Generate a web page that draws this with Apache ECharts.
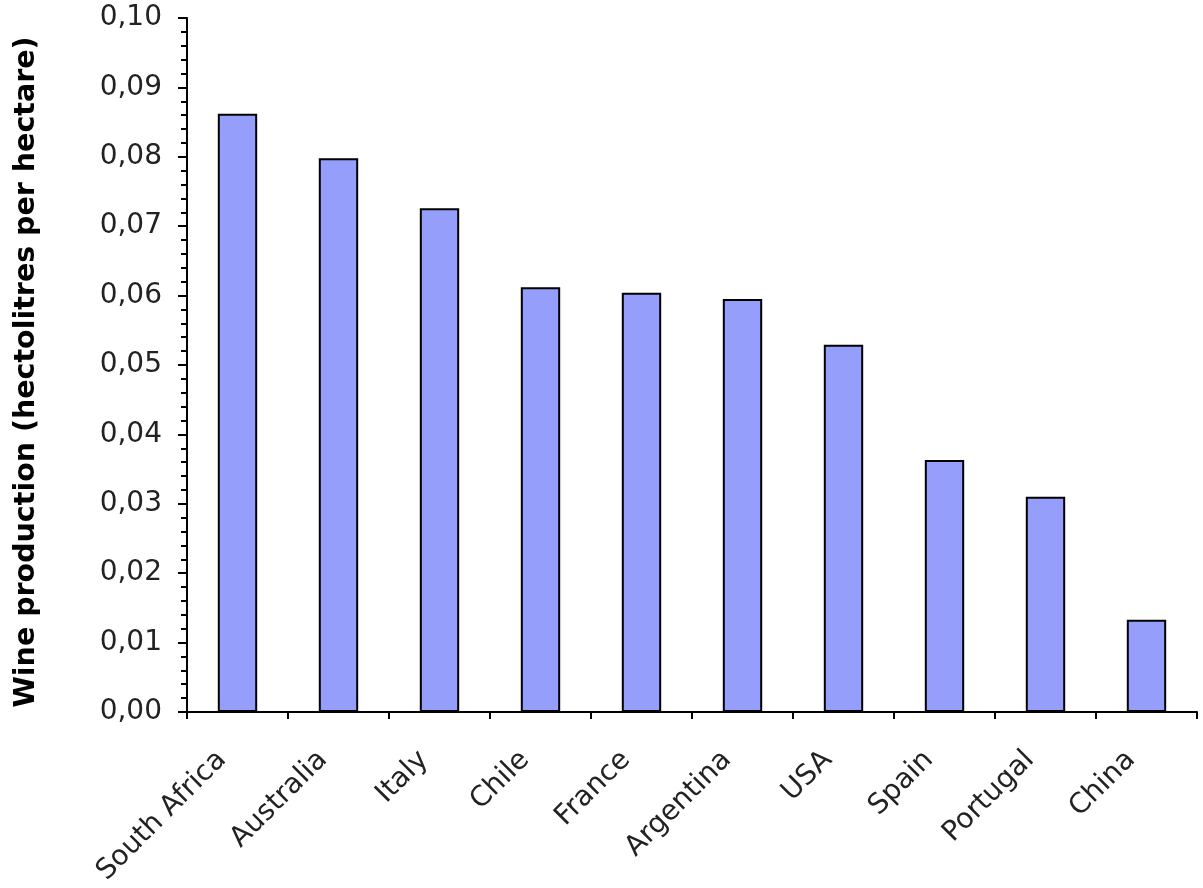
<!DOCTYPE html>
<html><head><meta charset="utf-8">
<script src="https://cdn.jsdelivr.net/npm/echarts@6/dist/echarts.min.js"></script>
<style>html,body{margin:0;padding:0;background:#fff}#c{width:1203px;height:888px}</style>
</head><body><div id="c"></div>
<script>
const categories = ['South Africa','Australia','Italy','Chile','France','Argentina','USA','Spain','Portugal','China'];
const values = [0.0862, 0.0798, 0.0726, 0.0612, 0.0604, 0.0595, 0.0529, 0.0363, 0.0310, 0.0133];
const yTitle = 'Wine production (hectolitres per hectare)';
const yMin = 0, yMax = 0.10, yInterval = 0.01;

const chart = echarts.init(document.getElementById('c'));
chart.setOption({
  animation: false,
  backgroundColor: '#ffffff',
  grid: {left: 187, right: 6, top: 18, bottom: 176},
  xAxis: {
    type: 'category', data: categories,
    axisLine: {lineStyle: {color: '#000', width: 2}},
    axisTick: {show: true, length: 7, lineStyle: {color: '#000', width: 2}},
    axisLabel: {rotate: 45, color: '#222', fontFamily: 'DejaVu Sans', fontSize: 28, margin: 28,
      padding: [0, 22, 0, 0]}
  },
  yAxis: {
    type: 'value', min: yMin, max: yMax, interval: yInterval,
    name: yTitle, nameLocation: 'middle', nameGap: 146,
    nameTextStyle: {fontFamily: 'DejaVu Sans', fontWeight: 'bold', fontSize: 28.5, color: '#000',
      padding: [0, 14, 0, 0]},
    axisLine: {show: true, lineStyle: {color: '#000', width: 2}},
    axisTick: {show: true, length: 9, lineStyle: {color: '#000', width: 2}},
    minorTick: {show: true, splitNumber: 5, length: 6, lineStyle: {color: '#000', width: 2}},
    splitLine: {show: false},
    axisLabel: {color: '#222', fontFamily: 'DejaVu Sans', fontSize: 28, margin: 25,
      formatter: v => v.toFixed(2).replace('.', ',')}
  },
  series: [{
    type: 'bar', data: values, barWidth: '39%',
    itemStyle: {color: '#959efb', borderColor: '#000', borderWidth: 2}
  }]
});
</script></body></html>
